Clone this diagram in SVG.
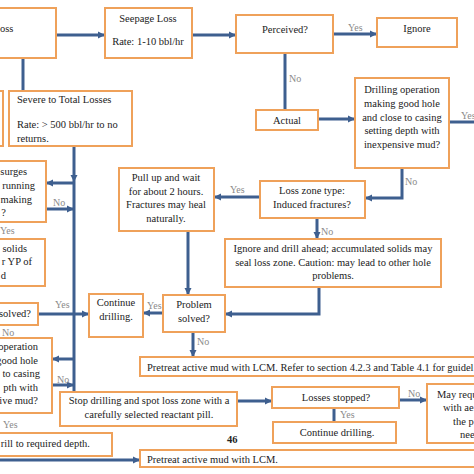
<svg xmlns="http://www.w3.org/2000/svg" width="474" height="474" viewBox="0 0 474 474">
<defs>
<marker id="ah" markerUnits="userSpaceOnUse" markerWidth="8" markerHeight="8" refX="6" refY="4" orient="auto">
<path d="M0,0.5 L7,4 L0,7.5 Z" fill="#3E5F8F"/>
</marker>
<style>
.box{fill:#fff;stroke:#EFA15A;stroke-width:2}
.t{font-family:"Liberation Serif","Times New Roman",serif;font-size:10.5px;fill:#222}
.c{text-anchor:middle}
.e{text-anchor:end}
.lb{font-family:"Liberation Serif","Times New Roman",serif;font-size:10px;fill:#8a8a8a}
.b{font-weight:bold}
#connectors path{fill:none;stroke:#3E5F8F;stroke-width:3}
#connectors path.a{marker-end:url(#ah)}
</style>
</defs>
<rect width="474" height="474" fill="#fff"/>
<g id="connectors">
<path class="a" d="M56,35 H104"/>
<path class="a" d="M192,35 H235"/>
<path d="M23,58 V91"/>
<path class="a" d="M333,34 H376"/>
<path d="M285,53 V110"/>
<path class="a" d="M318,119 H354"/>
<path d="M449,122 H474"/>
<path class="a" d="M402,168 V198 H366"/>
<path class="a" d="M260,197 H215"/>
<path class="a" d="M188,231 V294"/>
<path class="a" d="M317,218 V238"/>
<path class="a" d="M319,287 V314 H226"/>
<path class="a" d="M163,313 H144"/>
<path class="a" d="M193,332 V356"/>
<path class="a" d="M74,146 V181"/>
<path d="M74,181 V391"/>
<path class="a" d="M74,183 H47"/>
<path class="a" d="M46,209 H73"/>
<path class="a" d="M38,314 H88"/>
<path class="a" d="M74,359 H53"/>
<path class="a" d="M52,385 H73"/>
<path class="a" d="M237,401 H271"/>
<path class="a" d="M399,400 H426"/>
<path d="M334,408 V421"/>
<path class="a" d="M0,460 H139"/>
</g>
<g id="n-loss"><rect class="box" x="-5" y="8" width="61" height="50"/><text class="t" x="0" y="32">oss</text></g>
<g id="n-seepage"><rect class="box" x="105" y="8" width="87" height="50"/><text class="t c" x="148" y="22">Seepage Loss</text><text class="t c" x="148" y="45">Rate: 1-10 bbl/hr</text></g>
<g id="n-perceived"><rect class="box" x="236" y="15" width="97" height="38"/><text class="t c" x="285" y="33">Perceived?</text></g>
<g id="n-ignore"><rect class="box" x="377" y="18" width="80" height="29"/><text class="t c" x="417" y="32">Ignore</text></g>
<g id="n-actual"><rect class="box" x="256" y="110" width="62" height="20"/><text class="t c" x="287" y="124">Actual</text></g>
<g id="n-drillop"><rect class="box" x="355" y="78" width="94" height="90"/>
<text class="t c" x="402" y="93">Drilling operation</text><text class="t c" x="402" y="107">making good hole</text><text class="t c" x="402" y="121">and close to casing</text><text class="t c" x="402" y="134">setting depth with</text><text class="t c" x="402" y="148">inexpensive mud?</text></g>
<g id="n-moderate"><rect class="box" x="-5" y="91" width="8" height="55"/></g>
<g id="n-severe"><rect class="box" x="9" y="91" width="123" height="55"/><text class="t" x="17" y="103">Severe to Total Losses</text><text class="t" x="17" y="128">Rate: &gt; 500 bbl/hr to no</text><text class="t" x="17" y="142">returns.</text></g>
<g id="n-surges"><rect class="box" x="-5" y="161" width="51" height="61"/><text class="t e" x="27" y="175">surges</text><text class="t e" x="35" y="189">running</text><text class="t e" x="32" y="203">making</text><text class="t e" x="6" y="216">?</text></g>
<g id="n-solids"><rect class="box" x="-5" y="239" width="50" height="47"/><text class="t e" x="27" y="252">solids</text><text class="t e" x="32" y="265">r YP of</text><text class="t e" x="6" y="279">d</text></g>
<g id="n-pullup"><rect class="box" x="119" y="168" width="95" height="63"/><text class="t c" x="166" y="181">Pull up and wait</text><text class="t c" x="166" y="195">for about 2 hours.</text><text class="t c" x="166" y="208">Fractures may heal</text><text class="t c" x="166" y="222">naturally.</text></g>
<g id="n-losszone"><rect class="box" x="260" y="181" width="105" height="37"/><text class="t c" x="312" y="194">Loss zone type:</text><text class="t c" x="312" y="208">Induced fractures?</text></g>
<g id="n-ignoredrill"><rect class="box" x="225" y="239" width="216" height="48"/><text class="t c" x="333" y="252">Ignore and drill ahead; accumulated solids may</text><text class="t c" x="333" y="266">seal loss zone. Caution: may lead to other hole</text><text class="t c" x="333" y="279">problems.</text></g>
<g id="n-continue1"><rect class="box" x="89" y="294" width="54" height="43"/><text class="t c" x="116" y="306">Continue</text><text class="t c" x="116" y="320">drilling.</text></g>
<g id="n-problem"><rect class="box" x="163" y="295" width="62" height="37"/><text class="t c" x="194" y="308">Problem</text><text class="t c" x="194" y="322">solved?</text></g>
<g id="n-solvedleft"><rect class="box" x="-5" y="303" width="43" height="22"/><text class="t e" x="31" y="317">solved?</text></g>
<g id="n-pretreat1"><rect class="box" x="140" y="357" width="340" height="19"/><text class="t" x="147" y="371">Pretreat active mud with LCM. Refer to section 4.2.3 and Table 4.1 for guidel</text></g>
<g id="n-opleft"><rect class="box" x="-5" y="338" width="57" height="75"/><text class="t e" x="38" y="350">operation</text><text class="t e" x="38" y="364">good hole</text><text class="t e" x="40" y="377">to casing</text><text class="t e" x="38" y="391">pth with</text><text class="t e" x="38" y="404">ive mud?</text></g>
<g id="n-stop"><rect class="box" x="60" y="392" width="177" height="34"/><text class="t c" x="149" y="404">Stop drilling and spot loss zone with a</text><text class="t c" x="149" y="418">carefully selected reactant pill.</text></g>
<g id="n-lossesstopped"><rect class="box" x="272" y="387" width="127" height="21"/><text class="t c" x="336" y="401">Losses stopped?</text></g>
<g id="n-continue2"><rect class="box" x="273" y="422" width="123" height="21"/><text class="t c" x="337" y="436">Continue drilling.</text></g>
<g id="n-mayrequire"><rect class="box" x="427" y="384" width="60" height="59"/><text class="t" x="437" y="398">May requ</text><text class="t" x="443" y="411">with ae</text><text class="t" x="453" y="425">the p</text><text class="t" x="460" y="438">nee</text></g>
<g id="n-drilldepth"><rect class="box" x="-5" y="433" width="117" height="23"/><text class="t e" x="90" y="447">rill to required depth.</text></g>
<g id="n-pretreat2"><rect class="box" x="140" y="450" width="340" height="17"/><text class="t" x="147" y="463">Pretreat active mud with LCM.</text></g>
<g id="labels">
<text class="lb" x="348" y="31">Yes</text>
<text class="lb" x="289" y="82">No</text>
<text class="lb" x="461" y="119">Yes</text>
<text class="lb" x="405" y="185">No</text>
<text class="lb" x="230" y="193">Yes</text>
<text class="lb" x="321" y="235">No</text>
<text class="lb" x="53" y="206">No</text>
<text class="lb" x="0" y="234">Yes</text>
<text class="lb" x="55" y="308">Yes</text>
<text class="lb" x="147" y="309">Yes</text>
<text class="lb" x="197" y="345">No</text>
<text class="lb" x="2" y="336">No</text>
<text class="lb" x="57" y="383">No</text>
<text class="lb" x="3" y="428">Yes</text>
<text class="lb" x="408" y="397">No</text>
<text class="lb" x="340" y="418">Yes</text>
</g>
<text class="t b" x="227" y="443">46</text>
</svg>
